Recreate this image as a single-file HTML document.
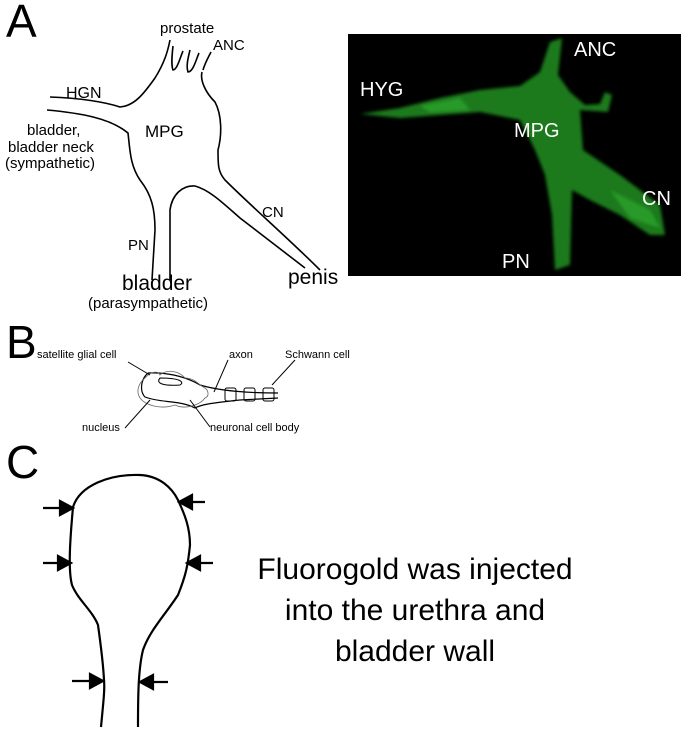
<!DOCTYPE html>
<html><head><meta charset="utf-8"><style>
body{margin:0;background:#fff;width:685px;height:732px;overflow:hidden;font-family:"Liberation Sans",Arial,sans-serif}
svg{position:absolute;left:0;top:0}
</style></head><body>
<svg width="685" height="732" viewBox="0 0 685 732" font-family="Liberation Sans, Arial, sans-serif">
<defs><filter id="b"><feGaussianBlur stdDeviation="1.5"/></filter></defs>
<text x="6" y="37" font-size="46">A</text>
<g fill="none" stroke="#000" stroke-width="1.6">
<path d="M50,97 C80,98 105,102 120,107 C135,106 145,92 155,78 C165,62 168,50 170,40"/>
<path d="M47,110 C80,113 110,118 128,133 C130,150 130,165 140,180 C152,195 155,210 155,230 L152,280"/>
<path d="M170,280 L170,210 C172,195 182,185 195,186 C210,190 225,205 240,218 L305,268"/>
<path d="M202,72 C200,80 205,92 215,102 C222,115 222,135 218,150 C218,165 218,172 225,180 C250,205 290,240 320,270"/>
<path d="M173,46 C172,55 171,65 173,70 C177,70 180,58 183,51"/>
<path d="M190,50 C188,58 186,66 188,72 C193,72 196,60 199,53"/>
<path d="M203,70 C205,63 208,58 211,52"/>
</g>
<g font-size="15">
<text x="160" y="33">prostate</text>
<text x="213" y="50">ANC</text>
<text x="66" y="98" font-size="16">HGN</text>
<text x="27" y="135">bladder,</text>
<text x="8" y="152">bladder neck</text>
<text x="5" y="168">(sympathetic)</text>
<text x="145" y="137" font-size="17">MPG</text>
<text x="262" y="217">CN</text>
<text x="128" y="250">PN</text>
<text x="122" y="290" font-size="21">bladder</text>
<text x="88" y="308">(parasympathetic)</text>
<text x="288" y="284" font-size="21">penis</text>
</g>
<rect x="348" y="34" width="333" height="242" fill="#000"/>
<g fill="#1a7a1a" filter="url(#b)">
<polygon points="360,114 400,108 440,98 480,90 520,86 540,72 550,42 562,38 558,75 570,92 585,105 600,104 605,92 612,95 608,112 580,110 583,150 620,175 660,205 665,235 650,235 620,215 590,200 572,190 570,265 555,270 552,215 545,175 535,150 520,120 480,112 440,115 400,118"/>
</g>
<g fill="#30b030" filter="url(#b)" opacity="0.6">
<polygon points="420,106 460,98 470,110 430,112"/>
<polygon points="610,190 650,210 660,228 630,218"/>
</g>
<g fill="#fff" font-size="20">
<text x="360" y="96">HYG</text>
<text x="574" y="56">ANC</text>
<text x="514" y="137">MPG</text>
<text x="642" y="205">CN</text>
<text x="502" y="268">PN</text>
</g>
<text x="6" y="358" font-size="46">B</text>
<g fill="none" stroke="#000" stroke-width="1">
<path d="M148,373 C140,380 140,392 145,397 C160,403 180,400 195,408 C200,405 210,403 240,400 L278,398" stroke-width="1.2"/>
<path d="M148,373 C165,372 185,376 200,385 C210,388 230,393 278,393" stroke-width="1.2"/>
<path d="M160,378 C155,384 165,386 180,385 C185,382 180,378 160,378Z"/>
<path d="M145,378 C150,372 158,370 160,375 C168,368 180,372 185,378 C195,378 200,386 205,388 C208,390 210,396 205,398 C200,405 185,410 175,405 C160,410 145,405 140,398 C135,390 140,382 145,378Z" stroke="#666" stroke-width="0.8"/>
<rect x="225" y="388" width="11" height="13" rx="2"/><rect x="244" y="388" width="11" height="13" rx="2"/><rect x="263" y="388" width="11" height="13" rx="2"/>
<path d="M128,362 L150,375 M228,360 L214,392 M295,360 L272,385 M125,428 L150,400 M210,427 L190,400"/>
</g>
<g font-size="11">
<text x="37" y="358">satellite glial cell</text>
<text x="229" y="358">axon</text>
<text x="285" y="358">Schwann cell</text>
<text x="82" y="431">nucleus</text>
<text x="210" y="431">neuronal cell body</text>
</g>
<text x="6" y="478" font-size="46">C</text>
<path d="M101,727 C103,705 105,690 104,680 C103,660 100,640 98,625 C92,610 78,600 72,585 C68,570 70,540 73,507 C80,485 110,474 140,475 C160,476 172,488 178,500 C185,515 190,528 190,545 C188,565 186,575 178,595 C165,615 150,630 143,650 C138,670 138,700 138,727" fill="none" stroke="#000" stroke-width="2.2"/>
<g stroke="#000" stroke-width="2.2" fill="#000">
<line x1="43" y1="508" x2="64" y2="508"/><polygon points="73,508 60,501 60,515"/>
<line x1="43" y1="563" x2="62" y2="563"/><polygon points="71,563 58,556 58,570"/>
<line x1="72" y1="681" x2="94" y2="681"/><polygon points="103,681 90,674 90,688"/>
<line x1="205" y1="502" x2="188" y2="502"/><polygon points="179,502 192,495 192,509"/>
<line x1="213" y1="563" x2="196" y2="563"/><polygon points="187,563 200,556 200,570"/>
<line x1="168" y1="682" x2="149" y2="682"/><polygon points="140,682 153,675 153,689"/>
</g>
<g font-size="30" text-anchor="middle">
<text x="415" y="579">Fluorogold was injected</text>
<text x="415" y="620">into the urethra and</text>
<text x="415" y="661">bladder wall</text>
</g>
</svg>
</body></html>
